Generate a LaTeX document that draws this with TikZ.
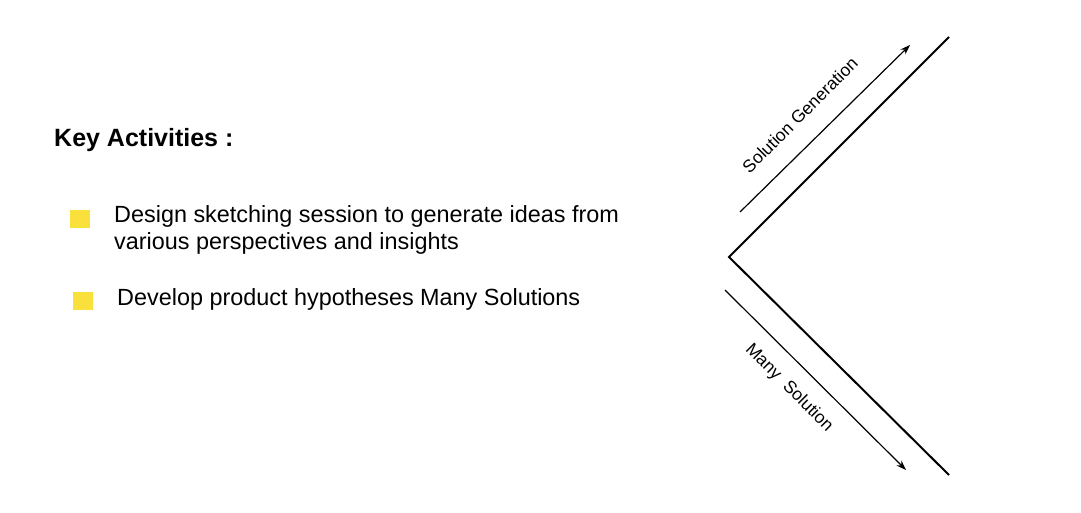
\documentclass[tikz,border=0pt]{standalone}
\usepackage{fontspec}
\setmainfont{Liberation Sans}
\usetikzlibrary{arrows.meta}
\definecolor{bul}{HTML}{F9E03A}
\tikzset{bullet/.style={fill=bul,draw=none},
  txt/.style={anchor=west,inner sep=0pt,font=\fontsize{23.4}{26}\selectfont},
  vline/.style={line width=2pt},
  arr/.style={line width=1.2pt,-{Stealth[length=10pt,width=7pt]}},
  lab/.style={font=\fontsize{17.5}{20}\selectfont,inner sep=0pt}}
\begin{document}
\begin{tikzpicture}[x=1pt,y=-1pt]
\useasboundingbox (0,0) rectangle (1081,512);
\node[txt,font=\bfseries\fontsize{25}{28}\selectfont] (title) at (54,140) {Key Activities :};
\fill[bullet] (70,210) rectangle (90,228);
\fill[bullet] (73,292) rectangle (93,310);
\node[txt] (t1) at (114,216) {Design sketching session to generate ideas from};
\node[txt] (t2) at (114,243) {various perspectives and insights};
\node[txt] (t3) at (117,299) {Develop product hypotheses Many Solutions};
\coordinate (vt) at (949,37);
\coordinate (vm) at (729,257);
\coordinate (vb) at (949,475);
\draw[vline] (vt) -- (vm) -- (vb);
\coordinate (a1s) at (740,212);
\coordinate (a1e) at (910,45);
\coordinate (a2s) at (725,290);
\coordinate (a2e) at (906,470);
\draw[arr] (a1s) -- (a1e);
\draw[arr] (a2s) -- (a2e);
\node[lab,rotate=45] (l1) at (800,115) {Solution Generation};
\node[lab,rotate=-45] (l2) at (789,388) {Many\ \ Solution};
\end{tikzpicture}
\end{document}
